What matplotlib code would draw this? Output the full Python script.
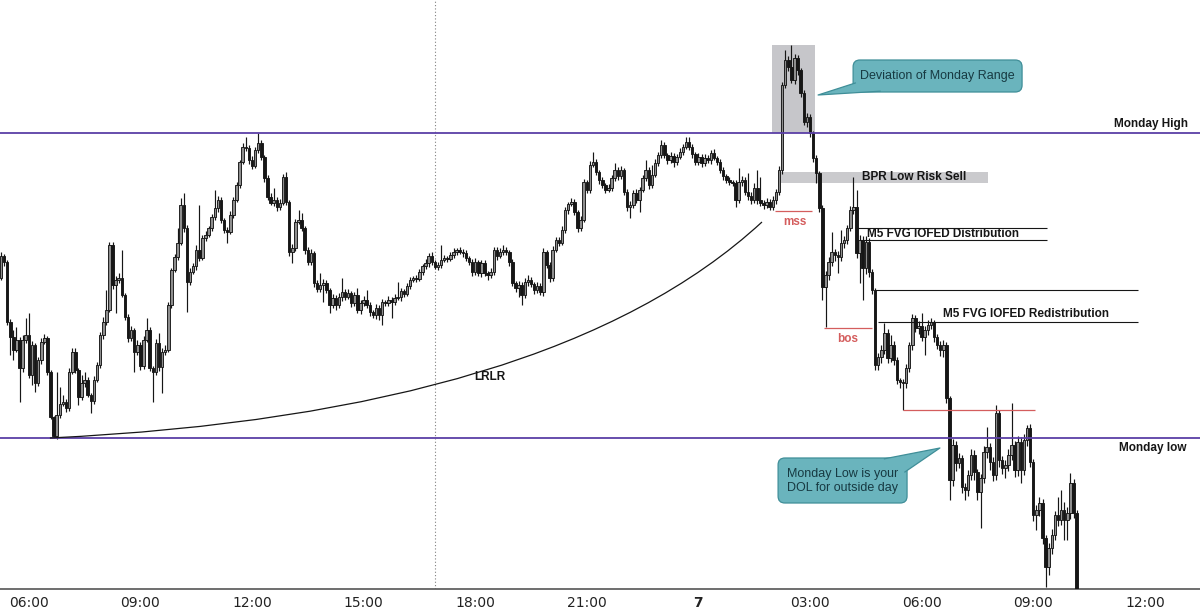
import matplotlib
matplotlib.use("Agg")
import matplotlib.pyplot as plt
import numpy as np
from matplotlib.patches import FancyBboxPatch, Polygon, Rectangle, PathPatch
from matplotlib.path import Path

plt.rcParams['font.family'] = ['Liberation Sans', 'DejaVu Sans']

# 5-minute candles, first bar opens Monday 05:15
first_open = 322
close = [
    344, 338, 278, 263, 250, 260, 232, 260, 265, 225, 255, 217,
    240, 258, 262, 228, 183, 164, 185, 196, 198, 192, 228, 248,
    230, 203, 217, 220, 205, 199, 220, 235, 265, 278, 290, 355,
    315, 320, 322, 305, 283, 262, 270, 248, 255, 234, 260, 270,
    232, 228, 257, 233, 248, 250, 295, 330, 343, 357, 395, 372,
    318, 328, 334, 350, 342, 362, 365, 372, 383, 392, 400, 380,
    370, 368, 385, 400, 415, 438, 453, 452, 440, 434, 450, 457,
    443, 422, 403, 397, 400, 393, 397, 423, 398, 348, 352, 378,
    380, 372, 350, 338, 347, 317, 311, 315, 317, 310, 295, 302,
    295, 303, 308, 303, 307, 297, 305, 290, 297, 300, 295, 288,
    285, 292, 285, 298, 297, 300, 298, 302, 303, 309, 306, 314,
    320, 322, 321, 328, 334, 337, 344, 338, 333, 335, 340, 342,
    341, 345, 348, 350, 348, 347, 342, 338, 328, 338, 327, 337,
    327, 325, 328, 350, 344, 348, 350, 348, 338, 317, 312, 315,
    305, 318, 320, 316, 310, 314, 308, 348, 335, 322, 350, 360,
    357, 370, 390, 396, 398, 388, 372, 380, 418, 410, 435, 438,
    428, 420, 415, 410, 412, 422, 430, 424, 430, 408, 393, 395,
    407, 400, 410, 422, 430, 415, 425, 437, 445, 455, 445, 440,
    444, 438, 443, 448, 453, 458, 453, 446, 438, 443, 437, 442,
    440, 447, 442, 438, 430, 424, 420, 418, 417, 400, 418, 420,
    408, 404, 400, 412, 400, 397, 395, 398, 393, 400, 408, 430,
    515, 540, 533, 520, 542, 530, 507, 478, 483, 467, 442, 427,
    392, 313, 325, 338, 348, 345, 343, 357, 360, 372, 390, 393,
    347, 360, 332, 358, 328, 310, 235, 243, 250, 267, 242, 255,
    240, 220, 218, 217, 232, 255, 282, 272, 274, 263, 270, 275,
    278, 263, 255, 250, 255, 202, 120, 155, 137, 142, 113, 110,
    125, 145, 128, 108, 122, 148, 153, 138, 125, 187, 140, 132,
    135, 145, 155, 130, 158, 130, 160, 172, 138, 85, 90, 97,
    62, 33, 52, 65, 85, 80, 90, 80, 87, 117, 87, 5,
]
up_wick = [
    4, 2, 2, 3, 7, 13, 3, 5, 17, 22, 4, 2,
    3, 4, 4, 2, 2, 1, 43, 17, 7, 3, 4, 4,
    4, 2, 8, 8, 3, 2, 4, 3, 3, 5, 20, 3,
    3, 4, 5, 28, 2, 3, 4, 2, 5, 3, 4, 12,
    3, 2, 4, 10, 4, 5, 3, 2, 3, 15, 7, 12,
    3, 4, 3, 5, 45, 3, 4, 2, 3, 18, 4, 3,
    2, 3, 4, 3, 3, 2, 4, 10, 3, 4, 3, 10,
    3, 2, 3, 4, 12, 3, 4, 3, 5, 2, 4, 3,
    10, 7, 2, 3, 4, 2, 3, 12, 4, 3, 2, 4,
    3, 4, 14, 3, 4, 2, 3, 7, 3, 4, 10, 3,
    2, 4, 3, 3, 2, 4, 3, 4, 15, 3, 2, 3,
    3, 2, 3, 3, 2, 4, 3, 4, 2, 3, 15, 3,
    2, 3, 4, 2, 3, 3, 3, 2, 3, 4, 2, 3,
    3, 2, 4, 3, 3, 4, 5, 3, 2, 3, 2, 4,
    3, 4, 5, 3, 2, 4, 3, 4, 2, 3, 4, 3,
    3, 4, 3, 2, 4, 3, 2, 4, 3, 2, 4, 10,
    3, 2, 3, 2, 4, 3, 7, 3, 4, 2, 3, 4,
    3, 4, 3, 3, 10, 3, 10, 4, 3, 5, 3, 2,
    4, 3, 3, 4, 3, 5, 5, 3, 2, 4, 3, 4,
    3, 3, 4, 2, 3, 3, 2, 3, 2, 3, 14, 4,
    3, 19, 4, 5, 18, 23, 3, 4, 3, 4, 3, 4,
    3, 10, 4, 22, 4, 3, 2, 3, 4, 3, 2, 3,
    2, 3, 4, 5, 20, 3, 4, 13, 4, 3, 4, 30,
    17, 5, 4, 6, 4, 3, 2, 4, 5, 10, 4, 10,
    4, 3, 2, 3, 4, 3, 4, 3, 5, 13, 4, 5,
    4, 2, 3, 4, 5, 3, 2, 6, 4, 5, 3, 4,
    5, 6, 5, 3, 4, 6, 20, 4, 5, 8, 3, 4,
    5, 6, 42, 4, 6, 5, 6, 3, 4, 3, 5, 6,
    4, 3, 5, 6, 4, 18, 20, 8, 6, 10, 4, 3,
]
dn_wick = [
    2, 4, 3, 18, 10, 2, 34, 4, 3, 3, 10, 9,
    3, 4, 2, 3, 2, 2, 3, 3, 2, 4, 3, 2,
    3, 8, 3, 4, 2, 12, 3, 2, 3, 4, 3, 2,
    4, 28, 3, 2, 3, 4, 3, 20, 3, 4, 3, 2,
    3, 30, 3, 4, 26, 3, 2, 3, 2, 3, 2, 4,
    30, 3, 2, 4, 3, 2, 3, 2, 3, 3, 4, 3,
    3, 11, 2, 3, 2, 3, 2, 3, 4, 3, 2, 3,
    3, 4, 3, 2, 3, 4, 3, 2, 3, 4, 11, 3,
    2, 3, 4, 3, 3, 4, 3, 3, 17, 3, 8, 3,
    5, 3, 4, 3, 2, 4, 3, 3, 4, 3, 3, 4,
    3, 4, 5, 10, 3, 3, 16, 3, 2, 4, 3, 2,
    3, 2, 3, 2, 3, 3, 4, 3, 2, 3, 3, 2,
    3, 2, 3, 3, 2, 4, 3, 3, 4, 3, 3, 4,
    3, 5, 3, 3, 4, 2, 3, 3, 4, 3, 4, 9,
    10, 3, 4, 3, 4, 3, 3, 4, 3, 4, 3, 2,
    3, 2, 3, 4, 2, 3, 4, 3, 2, 3, 3, 2,
    3, 4, 3, 3, 2, 3, 3, 4, 3, 3, 4, 11,
    3, 3, 12, 2, 3, 4, 3, 2, 3, 3, 3, 4,
    3, 5, 3, 2, 3, 2, 3, 4, 3, 3, 4, 3,
    3, 4, 2, 3, 3, 4, 3, 3, 3, 7, 3, 4,
    3, 4, 4, 3, 4, 3, 4, 3, 3, 3, 4, 3,
    4, 3, 4, 3, 4, 5, 4, 3, 5, 4, 4, 10,
    4, 13, 40, 5, 4, 6, 16, 4, 5, 4, 3, 4,
    5, 30, 32, 6, 5, 4, 5, 5, 6, 4, 5, 4,
    5, 4, 6, 27, 5, 4, 5, 4, 6, 4, 18, 5,
    4, 5, 4, 6, 7, 5, 20, 6, 8, 5, 6, 10,
    6, 5, 8, 8, 36, 5, 6, 8, 6, 5, 7, 6,
    10, 6, 5, 7, 6, 13, 5, 6, 5, 6, 15, 6,
    6, 20, 8, 6, 5, 6, 5, 20, 20, 6, 5, 0,
]

tick_labels = ['06:00', '09:00', '12:00', '15:00', '18:00', '21:00', '7',
               '03:00', '06:00', '09:00', '12:00']
tick_bars = [9 + 36 * k for k in range(len(tick_labels))]
session_break = 140

monday_high = 467
monday_low = 162

purple = '#5b3fa6'
red = '#d45d5d'
teal = '#6ab4bd'
teal_edge = '#3f8e98'
ink = '#161616'

c = np.array(close, float)
o = np.r_[first_open, c[:-1]]
hi = np.maximum(o, c) + np.array(up_wick)
lo = np.minimum(o, c) - np.array(dn_wick)
x = np.arange(len(c))
bull = c > o
bottom = np.minimum(o, c)
height = np.maximum(np.abs(c - o), 1.5)

fig = plt.figure(figsize=(12, 6.11), dpi=100)
ax = fig.add_axes([0, 22 / 611, 1, 589 / 611])
ax.set_xlim(-0.3, 386.8)
ax.set_ylim(11, 600)

ax.vlines(x, lo, hi, color=ink, lw=0.85, zorder=3)
ax.bar(x[bull], height[bull], bottom=bottom[bull], width=0.82,
       color='#8e8e8e', edgecolor=ink, linewidth=0.65, zorder=4)
ax.bar(x[~bull], height[~bull], bottom=bottom[~bull], width=0.82,
       color=ink, edgecolor=ink, linewidth=0.65, zorder=4)

# session break
ax.axvline(session_break, color='#808080', ls=(0, (1, 2)), lw=0.8, zorder=1)

# Monday range
ax.axhline(monday_high, color=purple, lw=1.3, zorder=5)
ax.axhline(monday_low, color=purple, lw=1.3, zorder=5)
ax.text(382.9, monday_high + 3, 'Monday High', ha='right', va='bottom',
        fontsize=8.5, fontweight='bold', color=ink)
ax.text(382.3, monday_low - 4, 'Monday low', ha='right', va='top',
        fontsize=8.5, fontweight='bold', color=ink)

# deviation box and BPR zone
ax.add_patch(Rectangle((248.7, monday_high), 13.9, 88, fc='#c6c6ca',
                       ec='none', zorder=2))
ax.add_patch(Rectangle((251.3, 417), 67.1, 11, fc='#cacacd', ec='none',
                       zorder=2))
ax.text(277.8, 423, 'BPR Low Risk Sell', ha='left', va='center',
        fontsize=8.5, fontweight='bold', color=ink, zorder=6)

# mss / bos
ax.hlines(389, 249.7, 261.6, color=red, lw=0.9, zorder=5)
ax.text(256.2, 378, 'mss', ha='center', va='center', fontsize=8.5,
        fontweight='bold', color=red)
ax.hlines(272, 265.5, 281.0, color=red, lw=0.9, zorder=5)
ax.text(273.2, 261, 'bos', ha='center', va='center', fontsize=8.5,
        fontweight='bold', color=red)
ax.hlines(190, 291.0, 333.6, color=red, lw=0.9, zorder=5)

# FVG levels
ax.hlines(372, 275.5, 337.4, color=ink, lw=0.8, zorder=5)
ax.hlines(360, 277.1, 337.4, color=ink, lw=0.8, zorder=5)
ax.text(279.4, 366, 'M5 FVG IOFED Distribution', ha='left', va='center',
        fontsize=8.5, fontweight='bold', color=ink, zorder=6)
ax.hlines(310, 282.0, 366.8, color=ink, lw=0.8, zorder=5)
ax.hlines(278, 283.0, 366.8, color=ink, lw=0.8, zorder=5)
ax.text(303.9, 286, 'M5 FVG IOFED Redistribution', ha='left', va='center',
        fontsize=8.5, fontweight='bold', color=ink, zorder=6)

# LRLR curve
curve = Path([(15.8, 162), (178.4, 186), (245.5, 378)],
             [Path.MOVETO, Path.CURVE3, Path.CURVE3])
ax.add_patch(PathPatch(curve, fc='none', ec=ink, lw=0.9, zorder=5))
ax.text(157.8, 223, 'LRLR', ha='center', va='center', fontsize=8.5,
        fontweight='bold', color=ink)


def callout(x0, x1, y0, y1, tip, base, lines, tx, ty):
    ax.add_patch(FancyBboxPatch((x0, y0), x1 - x0, y1 - y0,
                                boxstyle='round,pad=0,rounding_size=2.2',
                                mutation_aspect=3.1, fc=teal, ec=teal_edge,
                                lw=0.9, zorder=7))
    ax.add_patch(Polygon([base[0], tip, base[1]], closed=True, fc=teal,
                         ec='none', zorder=8))
    ax.plot([base[0][0], tip[0], base[1][0]], [base[0][1], tip[1], base[1][1]],
            color=teal_edge, lw=0.9, zorder=8)
    ax.text(tx, ty, lines, ha='center', va='center', multialignment='center',
            fontsize=9, color='#173a42', zorder=9, linespacing=1.2)


callout(274.9, 329.4, 508, 540, (263.6, 505), [(275.6, 517), (283.6, 508.8)],
        'Deviation of Monday Range', 302.0, 524)
callout(250.7, 292.3, 97, 142, (302.9, 152), [(285.0, 141.2), (291.6, 128)],
        'Monday Low is your\nDOL for outside day', 271.5, 119)

# axis styling
for s in ('top', 'left', 'right'):
    ax.spines[s].set_visible(False)
ax.spines['bottom'].set_color('#555555')
ax.spines['bottom'].set_linewidth(1.2)
ax.set_yticks([])
ax.set_xticks(tick_bars)
ax.set_xticklabels(tick_labels, family=['Liberation Sans Narrow', 'DejaVu Sans'],
                   fontsize=10, color='#222222')
ax.get_xticklabels()[6].set_fontweight('bold')
ax.tick_params(axis='x', length=0, pad=5)

fig.savefig('out.png', dpi=100, facecolor='white')
